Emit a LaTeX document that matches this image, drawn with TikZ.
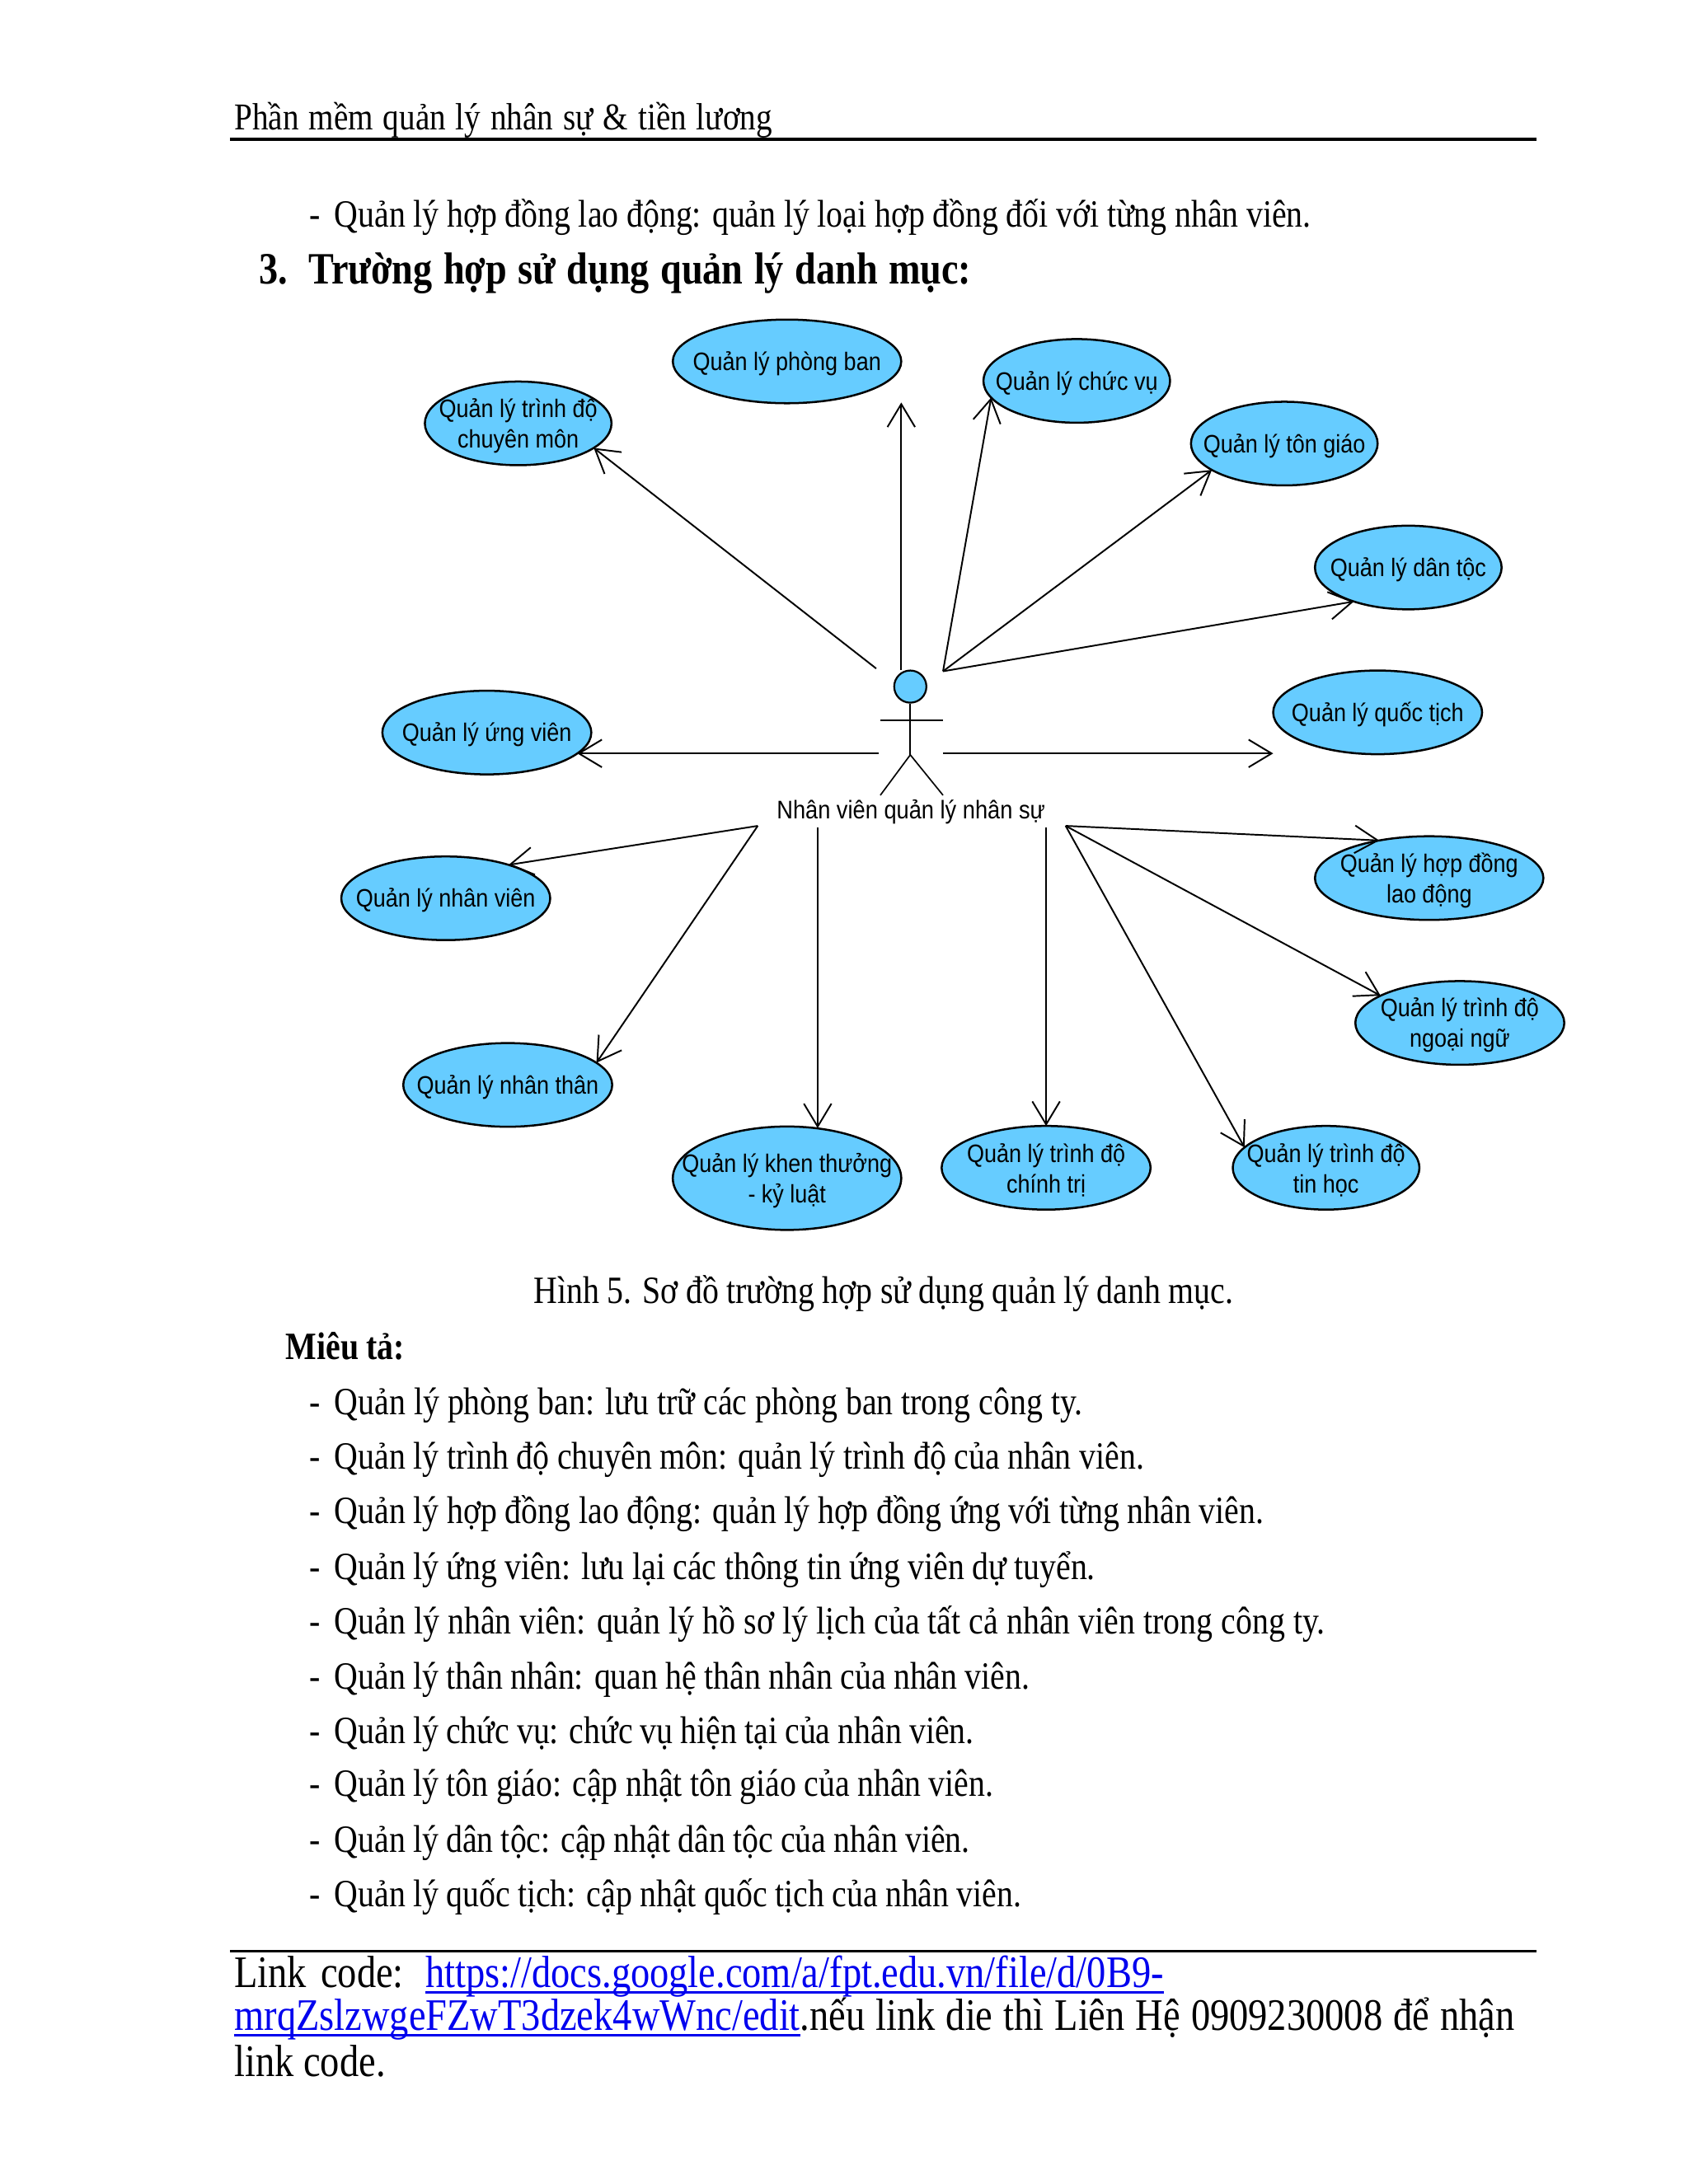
\documentclass[tikz,border=0pt]{standalone}
\usepackage{fontspec}
\setmainfont[FakeStretch=0.85]{Liberation Serif}
\newfontfamily\diagramfont[FakeStretch=0.88]{Liberation Sans}
\usetikzlibrary{shapes,arrows.meta}
\definecolor{ucblue}{HTML}{66CCFF}
\definecolor{linkblue}{HTML}{0000EE}
% line of text stretched to a width given in picture units
\newcommand{\fitline}[2]{\makebox[\dimexpr 0.606pt*#1\relax][s]{#2}}
% the dash that opens a list line
\newcommand{\listdash}{-\hspace{6pt}}
% link text with a heavy underline
\newsavebox{\linkbox}
\newcommand{\linktext}[1]{\sbox{\linkbox}{\color{linkblue}#1}\textcolor{linkblue}{\rlap{\rule[-2.6pt]{\wd\linkbox}{1.1pt}}}\usebox{\linkbox}}
\tikzset{
  usecase/.style={ellipse, draw, fill=ucblue, line width=0.9pt, inner sep=0, outer sep=0,
    minimum width=#1*0.606pt, minimum height=36.4pt},
  every label/.style={align=center, inner sep=0, yshift=-1pt, font=\diagramfont\fontsize{11}{13.3}\selectfont},
  usearrow/.style={line width=0.7pt, -{Straight Barb[length=10pt,width=12pt,line width=0.7pt]}},
  rulebar/.style={line width=1.2pt},
  pagetext/.style={anchor=base west, inner sep=0, font=\fontsize{16.8}{20}\selectfont},
  headtext/.style={anchor=base west, inner sep=0, font=\fontsize{19.5}{20}\bfseries\selectfont},
  foottext/.style={anchor=base west, inner sep=0, font=\fontsize{19.6}{20}\selectfont}
}
\begin{document}
\begin{tikzpicture}[x=0.606pt, y=-0.606pt]
  \useasboundingbox (0,0) rectangle (1212,1568.2);

  % page text
  \node [pagetext, font=\fontsize{16.5}{20}\selectfont] (header) at (168,93) {\fitline{386}{Phần mềm quản lý nhân sự \& tiền lương}};
  \coordinate (toprulea) at (165,100);
  \coordinate (topruleb) at (1103,100);
  \draw [rulebar] (toprulea) -- (topruleb);
  \node [pagetext] (intro) at (222,163) {\fitline{719}{\listdash Quản lý hợp đồng lao động: quản lý loại hợp đồng đối với từng nhân viên.}};
  \node [headtext] (section) at (186,204) {\fitline{511}{3.\hspace{9pt}Trường hợp sử dụng quản lý danh mục:}};

  % use cases
  \node [usecase=134, label={center:Quản lý trình độ\\chuyên môn}] (chuyenmon) at (372,304) {};
  \node [usecase=164, label={center:Quản lý phòng ban}] (phongban) at (565,259.5) {};
  \node [usecase=134, label={center:Quản lý chức vụ}] (chucvu) at (773,273.5) {};
  \node [usecase=134, label={center:Quản lý tôn giáo}] (tongiao) at (922,318.5) {};
  \node [usecase=134, label={center:Quản lý dân tộc}] (dantoc) at (1011,407.5) {};
  \node [usecase=150, label={center:Quản lý quốc tịch}] (quoctich) at (989,511.5) {};
  \node [usecase=164, label={center:Quản lý hợp đồng\\lao động}] (hopdong) at (1026,630.5) {};
  \node [usecase=150, label={center:Quản lý trình độ\\ngoại ngữ}] (ngoaingu) at (1048,734.5) {};
  \node [usecase=134, label={center:Quản lý trình độ\\tin học}] (tinhoc) at (952,838.5) {};
  \node [usecase=150, label={center:Quản lý trình độ\\chính trị}] (chinhtri) at (751,838.5) {};
  \node [usecase=164, minimum height=45pt, label={center:Quản lý khen thưởng\\- kỷ luật}] (khenthuong) at (565,846) {};
  \node [usecase=150, label={center:Quản lý nhân thân}] (nhanthan) at (364.5,779) {};
  \node [usecase=150, label={center:Quản lý nhân viên}] (nhanvien) at (320,645) {};
  \node [usecase=150, label={center:Quản lý ứng viên}] (ungvien) at (349.5,526) {};

  % actor
  \node [circle, draw, fill=ucblue, line width=0.8pt, inner sep=0, minimum size=14pt] (head) at (653.5,493) {};
  \coordinate (hip) at (653.5,542);
  \coordinate (armleft) at (632,517);
  \coordinate (armright) at (677,517);
  \coordinate (legleft) at (632,571);
  \coordinate (legright) at (677,571);
  \draw [line width=0.8pt] (head.south) -- (hip);
  \draw [line width=0.8pt] (armleft) -- (armright);
  \draw [line width=0.6pt] (legleft) -- (hip) -- (legright);
  \node [inner sep=0, font=\diagramfont\fontsize{11.1}{12}\selectfont] (actor) at (654,583) {Nhân viên quản lý nhân sự};

  % free ends of the arrows
  \coordinate (topleft) at (629,480);
  \coordinate (topmid) at (647,481);
  \coordinate (topright) at (677,482);
  \coordinate (midleft) at (631,541);
  \coordinate (midright) at (677,541);
  \coordinate (lowleft) at (544,593);
  \coordinate (lowmida) at (587,594);
  \coordinate (lowmidb) at (751,594);
  \coordinate (lowright) at (765,593);
  \coordinate (phongbanend) at (647,289);
  \coordinate (quoctichend) at (914,541);

  \draw [usearrow] (topleft) -- (chuyenmon.-18);
  \draw [usearrow] (topmid) -- (phongbanend);
  \draw [usearrow] (topright) -- (chucvu.191);
  \draw [usearrow] (topright) -- (tongiao.200);
  \draw [usearrow] (topright) -- (dantoc.212);
  \draw [usearrow] (midright) -- (quoctichend);
  \draw [usearrow] (midleft) -- (midleft -| ungvien.-13);
  \draw [usearrow] (lowleft) -- (nhanvien.28);
  \draw [usearrow] (lowleft) -- (nhanthan.14);
  \draw [usearrow] (lowmida) -- (lowmida |- khenthuong.60);
  \draw [usearrow] (lowmidb) -- (lowmidb |- chinhtri.north);
  \draw [usearrow] (lowright) -- (tinhoc.166);
  \draw [usearrow] (lowright) -- (ngoaingu.161);
  \draw [usearrow] (lowright) -- (hopdong.143);

  % caption and description
  \node [pagetext] (caption) at (383,936) {\fitline{502}{Hình 5. Sơ đồ trường hợp sử dụng quản lý danh mục.}};
  \node [headtext, font=\fontsize{16.8}{20}\bfseries\selectfont] (mieuta) at (205,976) {\fitline{85}{Miêu tả:}};
  \node [pagetext] (itema) at (222,1016) {\fitline{555}{\listdash Quản lý phòng ban: lưu trữ các phòng ban trong công ty.}};
  \node [pagetext] (itemb) at (222,1055) {\fitline{599}{\listdash Quản lý trình độ chuyên môn: quản lý trình độ của nhân viên.}};
  \node [pagetext] (itemc) at (222,1094) {\fitline{685}{\listdash Quản lý hợp đồng lao động: quản lý hợp đồng ứng với từng nhân viên.}};
  \node [pagetext] (itemd) at (222,1134) {\fitline{564}{\listdash Quản lý ứng viên: lưu lại các thông tin ứng viên dự tuyển.}};
  \node [pagetext] (iteme) at (222,1173) {\fitline{729}{\listdash Quản lý nhân viên: quản lý hồ sơ lý lịch của tất cả nhân viên trong công ty.}};
  \node [pagetext] (itemf) at (222,1213) {\fitline{517}{\listdash Quản lý thân nhân: quan hệ thân nhân của nhân viên.}};
  \node [pagetext] (itemg) at (222,1252) {\fitline{477}{\listdash Quản lý chức vụ: chức vụ hiện tại của nhân viên.}};
  \node [pagetext] (itemh) at (222,1290) {\fitline{491}{\listdash Quản lý tôn giáo: cập nhật tôn giáo của nhân viên.}};
  \node [pagetext] (itemi) at (222,1330) {\fitline{474}{\listdash Quản lý dân tộc: cập nhật dân tộc của nhân viên.}};
  \node [pagetext] (itemj) at (222,1369) {\fitline{511}{\listdash Quản lý quốc tịch: cập nhật quốc tịch của nhân viên.}};

  % footer
  \coordinate (footrulea) at (165,1401);
  \coordinate (footruleb) at (1103,1401);
  \draw [rulebar] (footrulea) -- (footruleb);
  \node [foottext] (linka) at (168,1427) {\fitline{667}{Link code: \linktext{https://docs.google.com/a/fpt.edu.vn/file/d/0B9-}}};
  \node [foottext] (linkb) at (168,1458) {\fitline{919}{\linktext{mrqZslzwgeFZwT3dzek4wWnc/edit}.nếu link die thì Liên Hệ 0909230008 để nhận}};
  \node [foottext] (linkc) at (168,1491) {link code.};
\end{tikzpicture}
\end{document}
